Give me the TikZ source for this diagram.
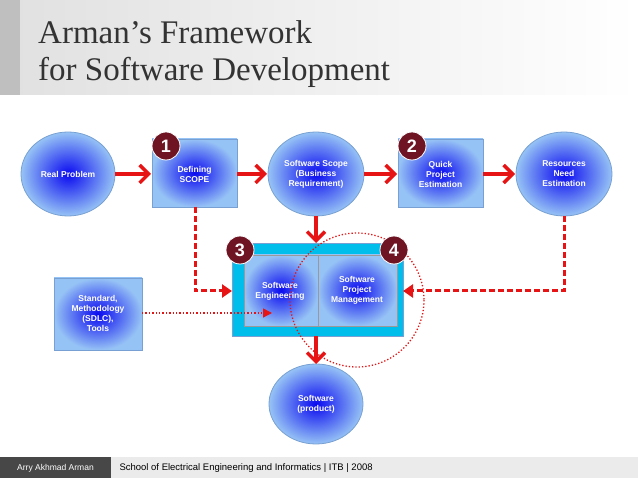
\documentclass[tikz,border=0pt]{standalone}
\usepackage{fontspec}
\setsansfont{Liberation Sans}
\setmainfont{Liberation Serif}
\usetikzlibrary{arrows.meta}
\definecolor{cin}{RGB}{10,10,240}
\definecolor{cout}{RGB}{150,195,245}
\definecolor{cedge}{RGB}{120,160,210}
\definecolor{ared}{RGB}{230,20,20}
\definecolor{badge}{RGB}{110,20,35}
\definecolor{cyanbox}{RGB}{0,190,235}
\tikzset{
 x=1pt,y=-1pt,
 shd/.style={inner color=cin,outer color=cout,draw=cedge,line width=0.8pt},
 lbl/.style={font=\sffamily\bfseries\fontsize{8.5}{10}\selectfont,text=white,align=center},
 flow/.style={draw=ared,line width=4.5pt,-{Straight Barb[length=9pt,width=18pt,line width=3.5pt]}},
 dflow/.style={draw=ared,line width=3pt,dash pattern=on 6pt off 3pt,-{Triangle[length=10pt,width=13pt]}},
 dot/.style={draw=ared,line width=1.4pt,dotted,-{Triangle[length=9pt,width=9pt]}},
 bdg/.style={circle,fill=badge,draw=white,line width=0.8pt,minimum size=28pt,inner sep=0pt,text=white,font=\sffamily\bfseries\fontsize{18}{18}\selectfont}
}
\begin{document}
\begin{tikzpicture}
\useasboundingbox (0,0) rectangle (638,478);
\shade[left color=black!12,right color=white] (0,0) rectangle (638,95);
\fill[black!25] (0,0) rectangle (20,95);
\node[anchor=base west,font=\fontsize{33}{35}\selectfont,text=black!80,inner sep=0] (t1) at (38,44) {Arman’s Framework};
\node[anchor=base west,font=\fontsize{33}{35}\selectfont,text=black!80,inner sep=0] (t2) at (38,81) {for Software Development};
% footer
\fill[black!72] (0,457) rectangle (111,478);
\fill[black!8] (111,457) rectangle (638,478);
\node[text=white,font=\sffamily\fontsize{8.5}{10}\selectfont] (f1) at (55.5,468) {Arry Akhmad Arman};
\node[anchor=west,font=\sffamily\fontsize{9.5}{10}\selectfont] (f2) at (116,468) {School of Electrical Engineering and Informatics | ITB | 2008};
% nodes
\shade[shd] (68,174) ellipse (47 and 42);
\node[lbl] (rp) at (68,174) {Real Problem};
\coordinate (rpE) at (115,174);
\shade[shd] (152,139) rectangle (237,207);
\node[lbl] (ds) at (194.5,174) {Defining\\SCOPE};
\shade[shd] (316,174) ellipse (48 and 42);
\node[lbl] (ss) at (316,174) {Software Scope\\(Business\\Requirement)};
\shade[shd] (398,139) rectangle (483,207);
\node[lbl] (qp) at (440.5,174) {Quick\\Project\\Estimation};
\shade[shd] (564,174) ellipse (48 and 42);
\node[lbl] (rn) at (564,174) {Resources\\Need\\Estimation};
\shade[shd] (54,278) rectangle (142,350);
\node[lbl] (st) at (98,313) {Standard,\\Methodology\\(SDLC),\\Tools};
\fill[cyanbox] (232,243) rectangle (403,336);
\draw[cedge,line width=0.5pt] (232,243) rectangle (403,336);
\shade[shd,draw=black!40] (244,255) rectangle (318,326);
\shade[shd,draw=black!40] (318,255) rectangle (397,326);
\node[lbl] (se) at (280,291) {Software\\Engineering};
\node[lbl] (pm) at (357,290) {Software\\Project\\Management};
\shade[shd] (316,404) ellipse (47 and 40);
\node[lbl] (sp) at (316,404) {Software\\(product)};
% coordinates
\coordinate (dsE) at (237,174);
\coordinate (ssW) at (267,174);
\coordinate (ssE) at (364,174);
\coordinate (qpW) at (397,174);
\coordinate (qpE) at (483,174);
\coordinate (rnW) at (515,174);
\coordinate (rpE2) at (151,174);
\coordinate (ssS) at (316,216);
\coordinate (boxN) at (316,243);
\coordinate (boxS) at (316,336);
\coordinate (spN) at (316,364);
\coordinate (dsS) at (195,207);
\coordinate (boxW) at (232,291);
\coordinate (rnS) at (564,216);
\coordinate (boxE) at (403,291);
\coordinate (stE) at (142,313);
\coordinate (seP) at (272,313);
% arrows
\draw[flow] (rpE) -- (rpE2);
\draw[flow] (dsE) -- (ssW);
\draw[flow] (ssE) -- (qpW);
\draw[flow] (qpE) -- (rnW);
\draw[flow] (ssS) -- (boxN);
\draw[flow] (boxS) -- (spN);
\draw[dflow] (dsS) |- (boxW);
\draw[dflow] (rnS) |- (boxE);
\draw[dot] (stE) -- (seP);
\draw[ared,line width=1.3pt,dotted] (357,300) circle (67);
% badges
\node[bdg] (b1) at (166,146) {1};
\node[bdg] (b2) at (412,146) {2};
\node[bdg] (b3) at (240,250) {3};
\node[bdg] (b4) at (394,250) {4};
\end{tikzpicture}
\end{document}
